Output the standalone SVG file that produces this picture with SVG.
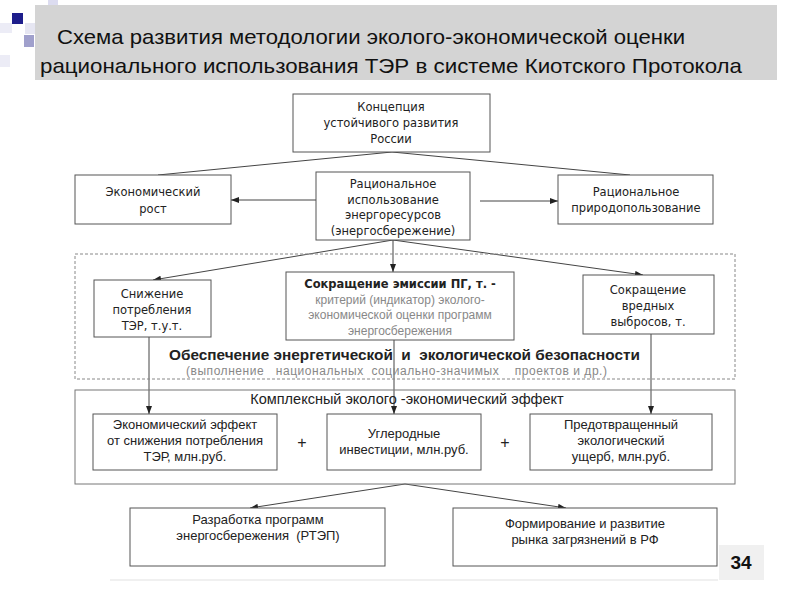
<svg xmlns="http://www.w3.org/2000/svg" width="800" height="600" viewBox="0 0 800 600">
<defs>
<marker id="ah" viewBox="0 0 8 6" refX="8" refY="3" markerWidth="8" markerHeight="6" markerUnits="userSpaceOnUse" orient="auto">
<path d="M0,0 L8,3 L0,6 Z" fill="#222"/>
</marker>
</defs>
<style>
.box{fill:#fff;stroke:#555;stroke-width:1}
.t{font-family:"DejaVu Sans","Liberation Sans",sans-serif;font-size:11.5px;fill:#222;text-anchor:middle}
.a{font-family:"Liberation Sans",Arial,sans-serif;font-size:13px;fill:#222;text-anchor:middle}
.g{font-family:"Liberation Sans",Arial,sans-serif;font-size:12px;fill:#888;text-anchor:middle}
.b{font-weight:bold}
.ln{stroke:#444;stroke-width:1;fill:none}
.title{font-family:"Liberation Sans",Arial,sans-serif;font-size:21px;fill:#111}
</style>
<rect width="800" height="600" fill="#fff"/>
<g id="header">
<rect x="48" y="0" width="10" height="5" fill="#dcdcf0"/>
<rect x="0" y="23" width="12" height="10" fill="#ececf6"/>
<rect x="12" y="13" width="11" height="11" fill="#1e1e8c"/>
<rect x="24" y="35" width="10" height="12" fill="#a0a0cc"/>
<rect x="25" y="23" width="10" height="11" fill="#e6e6f2"/>
<rect x="0" y="55" width="10" height="12" fill="#ececf6"/>
<rect x="35" y="5" width="742" height="75" fill="#d4d4d4"/>
<text class="title" x="57" y="44" textLength="628" lengthAdjust="spacingAndGlyphs">Схема развития методологии эколого-экономической оценки</text>
<text class="title" x="40" y="73" textLength="702" lengthAdjust="spacingAndGlyphs">рационального использования ТЭР в системе Киотского Протокола</text>
</g>
<g id="connectors">
<line class="ln" x1="392" y1="152" x2="158" y2="175"/>
<line class="ln" x1="392" y1="152" x2="630" y2="175"/>
<line class="ln" x1="316" y1="200" x2="231" y2="200" marker-end="url(#ah)"/>
<line class="ln" x1="480" y1="201" x2="558" y2="201" marker-end="url(#ah)"/>
<line class="ln" x1="393" y1="240" x2="153" y2="280" marker-end="url(#ah)"/>
<line class="ln" x1="393" y1="240" x2="393" y2="272" marker-end="url(#ah)"/>
<line class="ln" x1="393" y1="240" x2="643" y2="275" marker-end="url(#ah)"/>
<line class="ln" x1="149" y1="337" x2="149" y2="414" marker-end="url(#ah)"/>
<line class="ln" x1="394" y1="340" x2="394" y2="414" marker-end="url(#ah)"/>
<line class="ln" x1="651" y1="334" x2="651" y2="414" marker-end="url(#ah)"/>
<line class="ln" x1="405" y1="484" x2="250" y2="508" marker-end="url(#ah)"/>
<line class="ln" x1="405" y1="484" x2="566" y2="508" marker-end="url(#ah)"/>
</g>
<g id="n_concept">
<rect class="box" x="293" y="94" width="197" height="58"/>
<text class="t" x="391" y="111">Концепция</text>
<text class="t" x="391" y="127">устойчивого развития</text>
<text class="t" x="391" y="143">России</text>
</g>
<g id="n_econ">
<rect class="box" x="75" y="175" width="156" height="49"/>
<text class="t" x="153" y="196">Экономический</text>
<text class="t" x="153" y="213">рост</text>
</g>
<g id="n_energy">
<rect class="box" x="316" y="172" width="154" height="68"/>
<text class="t" x="393" y="188">Рациональное</text>
<text class="t" x="393" y="204">использование</text>
<text class="t" x="393" y="219">энергоресурсов</text>
<text class="t" x="393" y="235">(энергосбережение)</text>
</g>
<g id="n_nature">
<rect class="box" x="558" y="175" width="155" height="49"/>
<text class="t" x="636" y="196">Рациональное</text>
<text class="t" x="636" y="212">природопользование</text>
</g>
<g id="n_security">
<rect x="75" y="254" width="660" height="125" fill="none" stroke="#888" stroke-width="1" stroke-dasharray="3,2"/>
<text class="a b" x="169" y="360" text-anchor="start" style="font-size:15px;text-anchor:start" textLength="471" lengthAdjust="spacingAndGlyphs" xml:space="preserve">Обеспечение энергетической  и  экологической безопасности</text>
<text class="g" x="186" y="375" style="text-anchor:start" textLength="421" lengthAdjust="spacing" xml:space="preserve">(выполнение   национальных  социально-значимых    проектов и др.)</text>
</g>
<g id="n_consumption">
<rect class="box" x="94" y="280" width="117" height="57"/>
<text class="t" x="152" y="298">Снижение</text>
<text class="t" x="152" y="314">потребления</text>
<text class="t" x="152" y="330">ТЭР, т.у.т.</text>
</g>
<g id="n_emission">
<rect class="box" x="286" y="272" width="228" height="68"/>
<text class="t b" x="400" y="288">Сокращение эмиссии ПГ, т. -</text>
<text class="g" x="400" y="304">критерий (индикатор) эколого-</text>
<text class="g" x="400" y="319">экономической оценки программ</text>
<text class="g" x="400" y="335">энергосбережения</text>
</g>
<g id="n_harmful">
<rect class="box" x="583" y="275" width="131" height="59"/>
<text class="t" x="648" y="294">Сокращение</text>
<text class="t" x="648" y="310">вредных</text>
<text class="t" x="648" y="326">выбросов, т.</text>
</g>
<g id="n_complex">
<rect x="75" y="390" width="660" height="94" fill="none" stroke="#777" stroke-width="1"/>
<text class="a" x="407" y="404" style="font-size:14.5px">Комплексный эколого -экономический эффект</text>
<text class="a" x="302" y="448" style="font-size:16px">+</text>
<text class="a" x="505" y="448" style="font-size:16px">+</text>
</g>
<g id="n_effect">
<rect class="box" x="93" y="414" width="184" height="56"/>
<text class="a" x="185" y="429">Экономический эффект</text>
<text class="a" x="185" y="445">от снижения потребления</text>
<text class="a" x="185" y="461">ТЭР, млн.руб.</text>
</g>
<g id="n_carbon">
<rect class="box" x="327" y="414" width="154" height="56"/>
<text class="a" x="404" y="438">Углеродные</text>
<text class="a" x="404" y="454">инвестиции, млн.руб.</text>
</g>
<g id="n_damage">
<rect class="box" x="530" y="414" width="182" height="56"/>
<text class="a" x="621" y="429">Предотвращенный</text>
<text class="a" x="621" y="445">экологический</text>
<text class="a" x="621" y="461">ущерб, млн.руб.</text>
</g>
<g id="n_programs">
<rect class="box" x="130" y="508" width="255" height="58"/>
<text class="a" x="258" y="524">Разработка программ</text>
<text class="a" x="258" y="540" xml:space="preserve">энергосбережения  (РТЭП)</text>
</g>
<g id="n_market">
<rect class="box" x="453" y="508" width="264" height="58"/>
<text class="a" x="585" y="528">Формирование и развитие</text>
<text class="a" x="585" y="544">рынка загрязнений в РФ</text>
</g>
<g id="page">
<line x1="110" y1="580" x2="718" y2="580" stroke="#f0f0f0" stroke-width="2"/>
<rect x="719" y="545" width="45" height="35" fill="#f0f0f0"/>
<text x="741" y="569" text-anchor="middle" style="font-family:'Liberation Sans',Arial,sans-serif;font-size:19px;font-weight:bold;fill:#111">34</text>
</g>
</svg>
